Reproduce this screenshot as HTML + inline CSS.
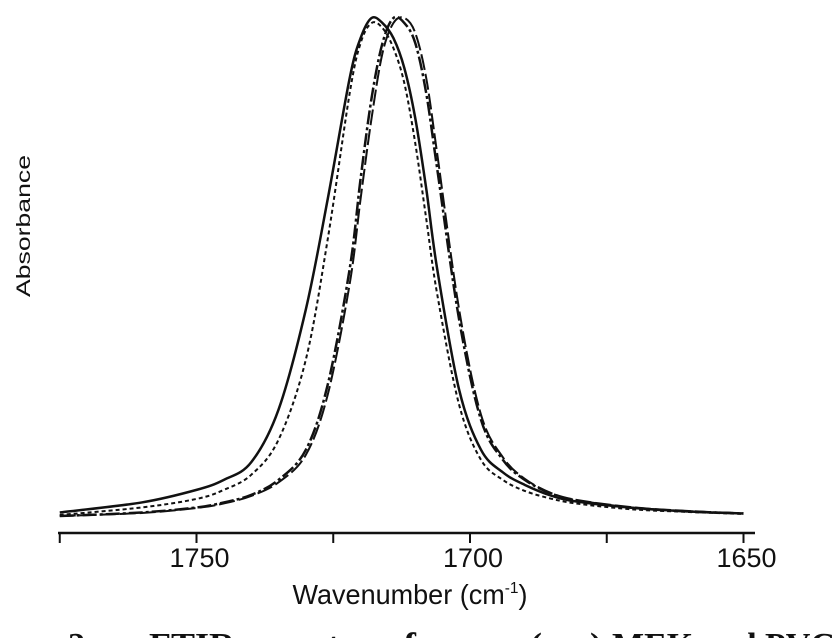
<!DOCTYPE html>
<html><head><meta charset="utf-8"><style>
html,body{margin:0;padding:0;background:#fff;width:834px;height:638px;overflow:hidden}
svg{display:block}
text{font-family:"Liberation Sans",sans-serif;fill:#111}
</style></head><body>
<svg id="chart" width="834" height="638" viewBox="0 0 834 638">
<g id="axis"></g>
<g id="series"></g>
<text transform="translate(30,226) rotate(-90)" text-anchor="middle" font-size="19" textLength="142" lengthAdjust="spacingAndGlyphs">Absorbance</text>
<text x="410" y="604" text-anchor="middle" font-size="28" textLength="235" lengthAdjust="spacingAndGlyphs">Wavenumber (cm<tspan font-size="16" dy="-11">-1</tspan><tspan dy="11">)</tspan></text>
<g>
<text x="68" y="656" font-size="34" font-weight="bold" style="font-family:'Liberation Serif',serif">2.</text>
<text x="149" y="656" font-size="34" font-weight="bold" style="font-family:'Liberation Serif',serif" textLength="86" lengthAdjust="spacingAndGlyphs">FTIR</text>
<text x="258" y="656" font-size="34" font-weight="bold" style="font-family:'Liberation Serif',serif" textLength="230" lengthAdjust="spacingAndGlyphs">spectra of -----</text>
<text x="530" y="656" font-size="34" font-weight="bold" style="font-family:'Liberation Serif',serif" textLength="72" lengthAdjust="spacingAndGlyphs">(----)</text>
<text x="612" y="656" font-size="34" font-weight="bold" style="font-family:'Liberation Serif',serif">MEK and PVC</text>
</g>
</svg>
<script>
const wavenumbers=[1775,1760,1750,1745,1740,1735,1730,1726,1722,1720,1718,1716,1714,1712,1710,1708,1706,1702,1698,1694,1690,1685,1680,1670,1660,1650];
const solidSeries=[0.015,0.035,0.06,0.08,0.115,0.22,0.42,0.64,0.88,0.96,1.0,0.99,0.96,0.9,0.8,0.66,0.5,0.26,0.14,0.095,0.07,0.048,0.036,0.024,0.017,0.013];
const dottedSeries=[0.01,0.025,0.042,0.06,0.09,0.16,0.32,0.56,0.85,0.95,0.99,0.98,0.94,0.87,0.75,0.6,0.45,0.23,0.12,0.08,0.058,0.042,0.032,0.021,0.016,0.012];
const dashDotSeries=[0.008,0.015,0.025,0.035,0.05,0.08,0.14,0.27,0.5,0.68,0.84,0.95,1.0,0.99,0.95,0.85,0.7,0.4,0.2,0.12,0.08,0.052,0.038,0.024,0.017,0.013];
const longDashSeries=[0.008,0.014,0.024,0.033,0.048,0.075,0.13,0.25,0.47,0.64,0.8,0.93,0.99,1.0,0.97,0.88,0.73,0.42,0.21,0.125,0.082,0.053,0.039,0.025,0.018,0.013];
const tickValues=[1775,1750,1725,1700,1675,1650];
const tickLabels=["","1750","","1700","","1650"];
const NS="http://www.w3.org/2000/svg";
const xs=w=>470+(1700-w)*5.47;
const ys=a=>520-502*a;
const axis=document.getElementById('axis');
let ln=document.createElementNS(NS,'line');


ln.setAttribute('x1',58);ln.setAttribute('x2',755);ln.setAttribute('y1',533);ln.setAttribute('y2',533);
ln.setAttribute('stroke','#111');ln.setAttribute('stroke-width','2.5');axis.appendChild(ln);
tickValues.forEach((v,i)=>{
 const t=document.createElementNS(NS,'line');
 
 
 t.setAttribute('x1',xs(v));t.setAttribute('x2',xs(v));t.setAttribute('y1',533);t.setAttribute('y2',543);
 t.setAttribute('stroke','#111');t.setAttribute('stroke-width','2');axis.appendChild(t);
 if(tickLabels[i]){const tx=document.createElementNS(NS,'text');
 
 
 tx.setAttribute('x',xs(v)+3);tx.setAttribute('y',567);tx.setAttribute('text-anchor','middle');tx.setAttribute('font-size','27');
 tx.setAttribute('textLength','60');tx.setAttribute('lengthAdjust','spacingAndGlyphs');
 tx.textContent=tickLabels[i];axis.appendChild(tx);}
});
function path(vals){
 const p=wavenumbers.map((w,i)=>[xs(w),ys(vals[i])]);
 let d='M'+p[0][0]+','+p[0][1];
 for(let i=0;i<p.length-1;i++){
  const p0=p[i-1]||p[i],p1=p[i],p2=p[i+1],p3=p[i+2]||p2;
  d+=' C'+(p1[0]+(p2[0]-p0[0])/6)+','+(p1[1]+(p2[1]-p0[1])/6)+' '+(p2[0]-(p3[0]-p1[0])/6)+','+(p2[1]-(p3[1]-p1[1])/6)+' '+p2[0]+','+p2[1];
 }
 return d;
}
const g=document.getElementById('series');
const defs=[[solidSeries,'solid','none',2.5],[dottedSeries,'dotted','4 3',2],[dashDotSeries,'dash-dot','14 3 3 3',2.5],[longDashSeries,'long-dash','16 4',2]];
defs.forEach(([vals,name,dash,sw])=>{
 const pa=document.createElementNS(NS,'path');
 
 
 pa.setAttribute('d',path(vals));pa.setAttribute('fill','none');pa.setAttribute('stroke','#111');
 pa.setAttribute('stroke-width',sw);if(dash!=='none')pa.setAttribute('stroke-dasharray',dash);
 g.appendChild(pa);
});
</script>
</body></html>
